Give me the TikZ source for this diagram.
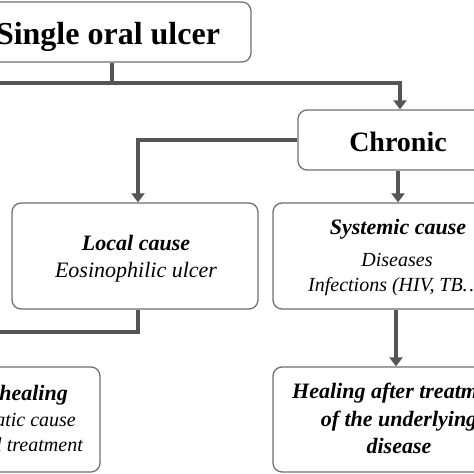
\documentclass[tikz,border=0pt]{standalone}
\usepackage{fontspec}
\setmainfont{Liberation Serif}
\usetikzlibrary{arrows.meta}
\definecolor{linegray}{HTML}{555555}
\definecolor{boxgray}{HTML}{707070}
\tikzset{
  box/.style={draw=boxgray, line width=1.3pt, rounded corners=9pt, fill=white, inner sep=0pt},
  conn/.style={draw=linegray, line width=4.5pt},
  arr/.style={conn, -{Triangle[width=13pt,length=9pt]}},
  lbl/.style={inner sep=0pt, anchor=base},
  lblw/.style={inner sep=0pt, anchor=base west},
  lble/.style={inner sep=0pt, anchor=base east},
  fbig/.style={font=\fontsize{32}{36}\selectfont\bfseries},
  fchr/.style={font=\fontsize{28}{32}\selectfont\bfseries},
  fbi/.style={font=\fontsize{22}{26}\selectfont\bfseries\itshape},
  fit/.style={font=\fontsize{20}{24}\selectfont\itshape},
  fitl/.style={font=\fontsize{22}{26}\selectfont\itshape},
}
\begin{document}
\begin{tikzpicture}[x=1pt,y=-1pt]
\useasboundingbox (0,0) rectangle (474,474);
\clip (0,0) rectangle (474,474);
\fill[white] (0,0) rectangle (474,474);
% boxes
\node[box, minimum width=285pt, minimum height=60pt] (top) at (108.5,32) {};
\node[box, minimum width=200pt, minimum height=60pt] (chr) at (398,140) {};
\node[box, minimum width=246pt, minimum height=106pt] (loc) at (135,256) {};
\node[box, minimum width=250pt, minimum height=106pt] (sys) at (398,256) {};
\node[box, minimum width=250pt, minimum height=105pt] (hl) at (-25,419.5) {};
\node[box, minimum width=250pt, minimum height=105pt] (hr) at (398,419.5) {};
% texts
\node[lbl, fbig] (ttop) at (108,44) {Single oral ulcer};
\node[lbl, fchr] (tchr) at (398,151) {Chronic};
\node[lbl, fbi] (tloc1) at (136,250) {Local cause};
\node[lbl, fitl] (tloc2) at (136,277) {Eosinophilic ulcer};
\node[lbl, fbi] (tsys1) at (398,234) {Systemic cause};
\node[lbl, fit] (tsys2) at (397,266) {Diseases};
\node[lblw, fit] (tsys3) at (308,291) {Infections (HIV, TB…};
\node[lble, fbi] (thl1) at (68,400) {healing};
\node[lble, fit] (thl2) at (76,426) {atic cause};
\node[lble, fit] (thl3) at (83,451) {l treatment};
\node[lblw, fbi] (thr1) at (292,398) {Healing after treatment};
\node[lbl, fbi] (thr2) at (399,426) {of the underlying};
\node[lbl, fbi] (thr3) at (399,453) {disease};
% connectors
\coordinate (j1) at (112,83);
\coordinate (offa) at (-10,83);
\coordinate (offb) at (-10,332);
\draw[conn] (top.south -| j1) -- (j1) -- (offa);
\draw[arr] (j1) -| (chr.north -| 400,0);
\draw[arr] (chr.west) -| (loc.north -| 138,0);
\draw[arr] (chr.south) -- (sys.north);
\draw[conn] (loc.south -| 138,0) |- (offb);
\draw[arr] (sys.south -| 396,0) -- (hr.north -| 396,0);
\end{tikzpicture}
\end{document}
